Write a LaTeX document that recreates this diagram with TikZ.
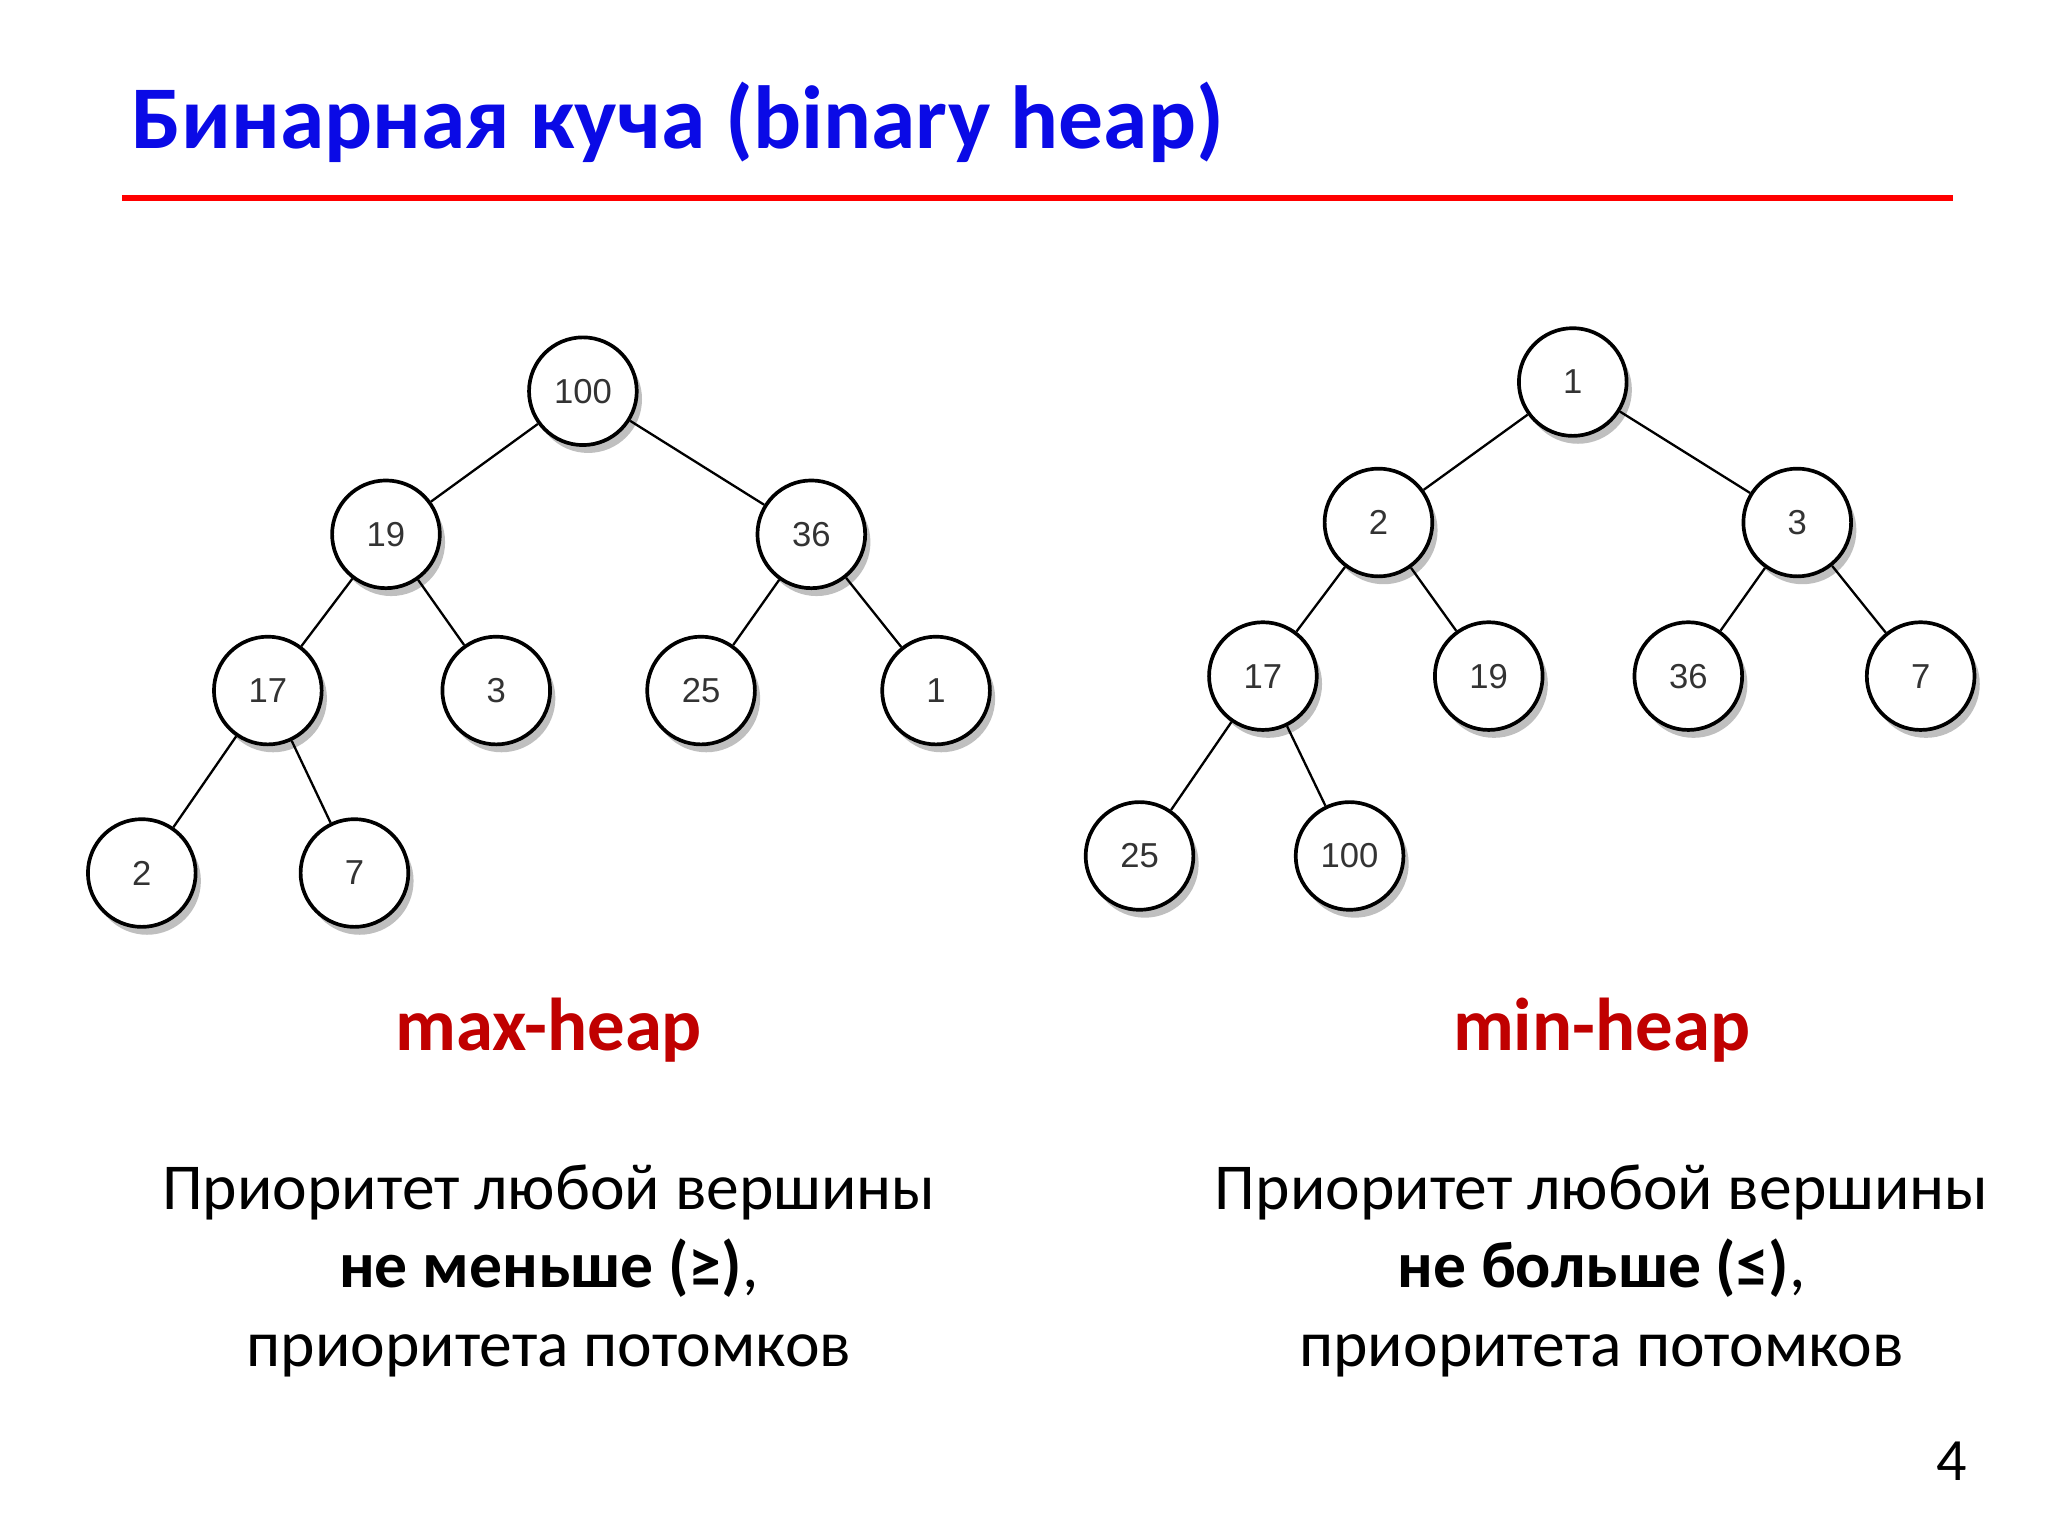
\documentclass[tikz,border=0pt]{standalone}
\usepackage{fontspec}
\setmainfont{Carlito}
\newfontfamily\nodefont{Liberation Sans}
\usetikzlibrary{shadows}
\definecolor{titleblue}{RGB}{10,10,230}
\definecolor{heapred}{RGB}{192,0,0}
\begin{document}
\begin{tikzpicture}[x=0.01cm,y=-0.01cm,
  hn/.style={circle,draw=black,line width=0.8pt,fill=white,minimum size=0.82cm,inner sep=0pt,
    font=\nodefont\fontsize{7.5}{9}\selectfont,text=black!80,
    drop shadow={shadow xshift=0.04cm,shadow yshift=-0.06cm,opacity=0.25,fill=black}},
  ed/.style={draw=black,line width=0.5pt},
  body/.style={font=\fontsize{14.2}{17}\selectfont,align=center}]
\useasboundingbox[fill=white] (0,0) rectangle (1560,1170);
\node[anchor=west,text=titleblue,font=\bfseries\fontsize{19.4}{23}\selectfont] (title) at (88,93) {Бинарная куча (binary heap)};
\draw[red,line width=1.4pt] (93,151) -- (1488,151);
% max heap
\node[hn] (a100) at (444,298) {100};
\node[hn] (a19) at (294,407) {19};
\node[hn] (a36) at (618,407) {36};
\node[hn] (a17) at (204,526) {17};
\node[hn] (a3) at (378,526) {3};
\node[hn] (a25) at (534,526) {25};
\node[hn] (a1) at (713,526) {1};
\node[hn] (a2) at (108,665) {2};
\node[hn] (a7) at (270,665) {7};
\draw[ed] (a100)--(a19); \draw[ed] (a100)--(a36);
\draw[ed] (a19)--(a17); \draw[ed] (a19)--(a3);
\draw[ed] (a36)--(a25); \draw[ed] (a36)--(a1);
\draw[ed] (a17)--(a2); \draw[ed] (a17)--(a7);
% min heap
\node[hn] (b1) at (1198,291) {1};
\node[hn] (b2) at (1050,398) {2};
\node[hn] (b3) at (1369,398) {3};
\node[hn] (b17) at (962,515) {17};
\node[hn] (b19) at (1134,515) {19};
\node[hn] (b36) at (1286,515) {36};
\node[hn] (b7) at (1463,515) {7};
\node[hn] (b25) at (868,652) {25};
\node[hn] (b100) at (1028,652) {100};
\draw[ed] (b1)--(b2); \draw[ed] (b1)--(b3);
\draw[ed] (b2)--(b17); \draw[ed] (b2)--(b19);
\draw[ed] (b3)--(b36); \draw[ed] (b3)--(b7);
\draw[ed] (b17)--(b25); \draw[ed] (b17)--(b100);
% labels
\node[text=heapred,font=\bfseries\fontsize{16.2}{20}\selectfont] (lmax) at (418,785) {max-heap};
\node[text=heapred,font=\bfseries\fontsize{16.2}{20}\selectfont] (lmin) at (1220,785) {min-heap};
\node[body] (tmax) at (418,968) {Приоритет любой вершины\\\textbf{не меньше (≥)},\\приоритета потомков};
\node[body] (tmin) at (1220,968) {Приоритет любой вершины\\\textbf{не больше (≤)},\\приоритета потомков};
\node[font=\fontsize{13}{15}\selectfont] (pg) at (1487,1113) {4};
\end{tikzpicture}
\end{document}
